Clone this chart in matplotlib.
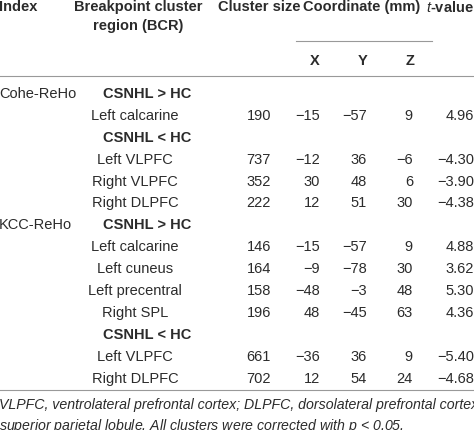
import matplotlib
matplotlib.use("Agg")
import matplotlib.pyplot as plt

W, H = 474, 431
FS = 10.5
INK = "#2b2b2b"

regions = [
    ("Cohe-ReHo", "CSNHL > HC", "Left calcarine", 190, "\u221215", "\u221257", "9", "4.96"),
    ("Cohe-ReHo", "CSNHL < HC", "Left VLPFC", 737, "\u221212", "36", "\u22126", "\u22124.30"),
    ("Cohe-ReHo", "CSNHL < HC", "Right VLPFC", 352, "30", "48", "6", "\u22123.90"),
    ("Cohe-ReHo", "CSNHL < HC", "Right DLPFC", 222, "12", "51", "30", "\u22124.38"),
    ("KCC-ReHo", "CSNHL > HC", "Left calcarine", 146, "\u221215", "\u221257", "9", "4.88"),
    ("KCC-ReHo", "CSNHL > HC", "Left cuneus", 164, "\u22129", "\u221278", "30", "3.62"),
    ("KCC-ReHo", "CSNHL > HC", "Left precentral", 158, "\u221248", "\u22123", "48", "5.30"),
    ("KCC-ReHo", "CSNHL > HC", "Right SPL", 196, "48", "\u221245", "63", "4.36"),
    ("KCC-ReHo", "CSNHL < HC", "Left VLPFC", 661, "\u221236", "36", "9", "\u22125.40"),
    ("KCC-ReHo", "CSNHL < HC", "Right DLPFC", 702, "12", "54", "24", "\u22124.68"),
]
footnote = ["VLPFC, ventrolateral prefrontal cortex; DLPFC, dorsolateral prefrontal cortex; SPL,",
            "superior parietal lobule. All clusters were corrected with $p$ < 0.05."]

plt.rcParams["font.family"] = ["Liberation Sans", "DejaVu Sans"]
plt.rcParams["mathtext.fontset"] = "custom"
plt.rcParams["mathtext.it"] = "Liberation Sans:italic"
plt.rcParams["mathtext.bf"] = "Liberation Sans:bold:italic"
fig = plt.figure(figsize=(W / 100, H / 100), dpi=100)
ax = fig.add_axes([0, 0, 1, 1])
ax.set_xlim(0, W); ax.set_ylim(H, 0); ax.axis("off")

def t(x, y, s, ha="left", fs=FS, **kw):
    ax.text(x, y, s, ha=ha, va="center", fontsize=fs, color=INK, **kw)

# header
t(-1, 7, "Index", weight="bold")
t(138, 7, "Breakpoint cluster", ha="center", weight="bold")
t(138, 26, "region (BCR)", ha="center", weight="bold")
t(259, 7, "Cluster size", ha="center", weight="bold")
t(362, 7, "Coordinate (mm)", ha="center", weight="bold")
t(474, 7, "$\\it{t}$-value", ha="right", weight="bold")
ax.plot([296, 432], [42, 42], color="#999999", lw=0.8)
for x, s in zip([315, 363, 410], ["X", "Y", "Z"]):
    t(x, 61, s, ha="center", weight="bold")
ax.plot([0, W], [77, 77], color="#999999", lw=0.8)

y = 94
step = 21.9
last_idx, last_grp = None, None
for idx, grp, name, size, x_, y_, z_, tv in regions:
    if idx != last_idx:
        t(-1, y, idx)
    if idx != last_idx or grp != last_grp:
        t(103, y, grp, weight="bold")
        y += step
    last_idx, last_grp = idx, grp
    t(135, y, name, ha="center")
    t(271, y, str(size), ha="right")
    t(320, y, x_, ha="right")
    t(367, y, y_, ha="right")
    t(413, y, z_, ha="right")
    t(474, y, tv, ha="right")
    y += step

ax.plot([0, W], [y - 10, y - 10], color="#999999", lw=0.8)
for i, line in enumerate(footnote):
    t(-1, y + 4 + i * 21, line, style="italic", fs=FS - 0.3)

fig.savefig("out.png", dpi=100)
